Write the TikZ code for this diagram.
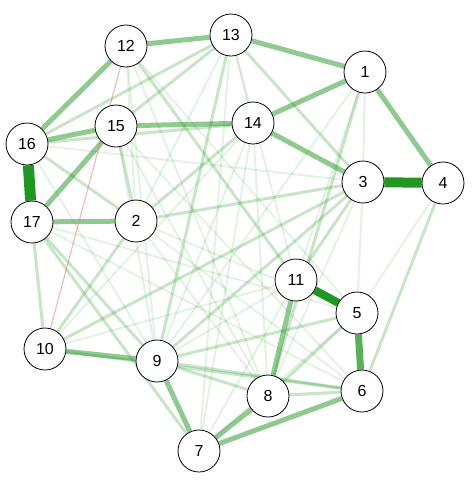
\documentclass[tikz,border=0pt]{standalone}
\usepackage{fontspec}
\setmainfont{Liberation Sans}
\usetikzlibrary{backgrounds}
\definecolor{eg}{RGB}{34,150,34}
\definecolor{er}{RGB}{225,120,120}
\begin{document}
\begin{tikzpicture}[x=1pt,y=-1pt,
  vtx/.style={circle,draw=black,line width=0.8pt,fill=white,minimum size=42pt,inner sep=0pt,font=\fontsize{16}{16}\selectfont},
  ea/.style={draw=eg,line width=10pt},
  eb/.style={draw=eg,line width=7pt,opacity=0.75},
  ec/.style={draw=eg,line width=5pt,opacity=0.5},
  ed/.style={draw=eg,line width=3pt,opacity=0.25},
  ee/.style={draw=eg,line width=2pt,opacity=0.12},
  eneg/.style={draw=er,line width=1.2pt,opacity=0.5}]
\useasboundingbox (0,0) rectangle (474,483);
\node[vtx] (n12) at (126,46) {12};
\node[vtx] (n13) at (231,35) {13};
\node[vtx] (n1) at (365,72) {1};
\node[vtx] (n16) at (27,144) {16};
\node[vtx] (n15) at (116,126) {15};
\node[vtx] (n14) at (253,123) {14};
\node[vtx] (n3) at (363,182) {3};
\node[vtx] (n4) at (443,183) {4};
\node[vtx] (n17) at (32,222) {17};
\node[vtx] (n2) at (136,221) {2};
\node[vtx] (n11) at (296,280) {11};
\node[vtx] (n5) at (357,313) {5};
\node[vtx] (n10) at (45,349) {10};
\node[vtx] (n9) at (157,361) {9};
\node[vtx] (n8) at (268,396) {8};
\node[vtx] (n6) at (362,391) {6};
\node[vtx] (n7) at (199,451) {7};
\begin{scope}[on background layer]
\foreach \a/\b in {1/3,3/5,4/5,12/2,13/7,13/11,13/14,14/9,14/10,17/6,17/5,2/8,2/6,12/9,16/9,1/9,14/7,16/3,9/11,7/5,7/11,10/11,15/8,12/5,1/11,15/9,14/8,2/5,12/8,15/6,3/8,13/2}
  \draw[ee] (n\a) -- (n\b);
\foreach \a/\b in {16/2,17/10,4/6,9/8,9/6,13/3,14/2,3/2,9/5,13/15,10/2,10/3,17/7,17/9,13/9,16/14,3/9,1/8,3/11,12/11,15/2,10/6,13/16,8/6,8/5}
  \draw[ed] (n\a) -- (n\b);
\foreach \a/\b in {11/8,9/7,12/13,13/1,14/1,1/4,14/3,15/14,15/17,17/2,12/16,10/9,7/6,7/8,16/15}
  \draw[ec] (n\a) -- (n\b);
\draw[eb] (n5) -- (n6);
\draw[eneg] (n12) -- (n10);
\draw[ea] (n3) -- (n4);
\draw[ea,line width=11pt] (n16) -- (n17);
\draw[ea,line width=8pt] (n11) -- (n5);
\end{scope}
\end{tikzpicture}
\end{document}
